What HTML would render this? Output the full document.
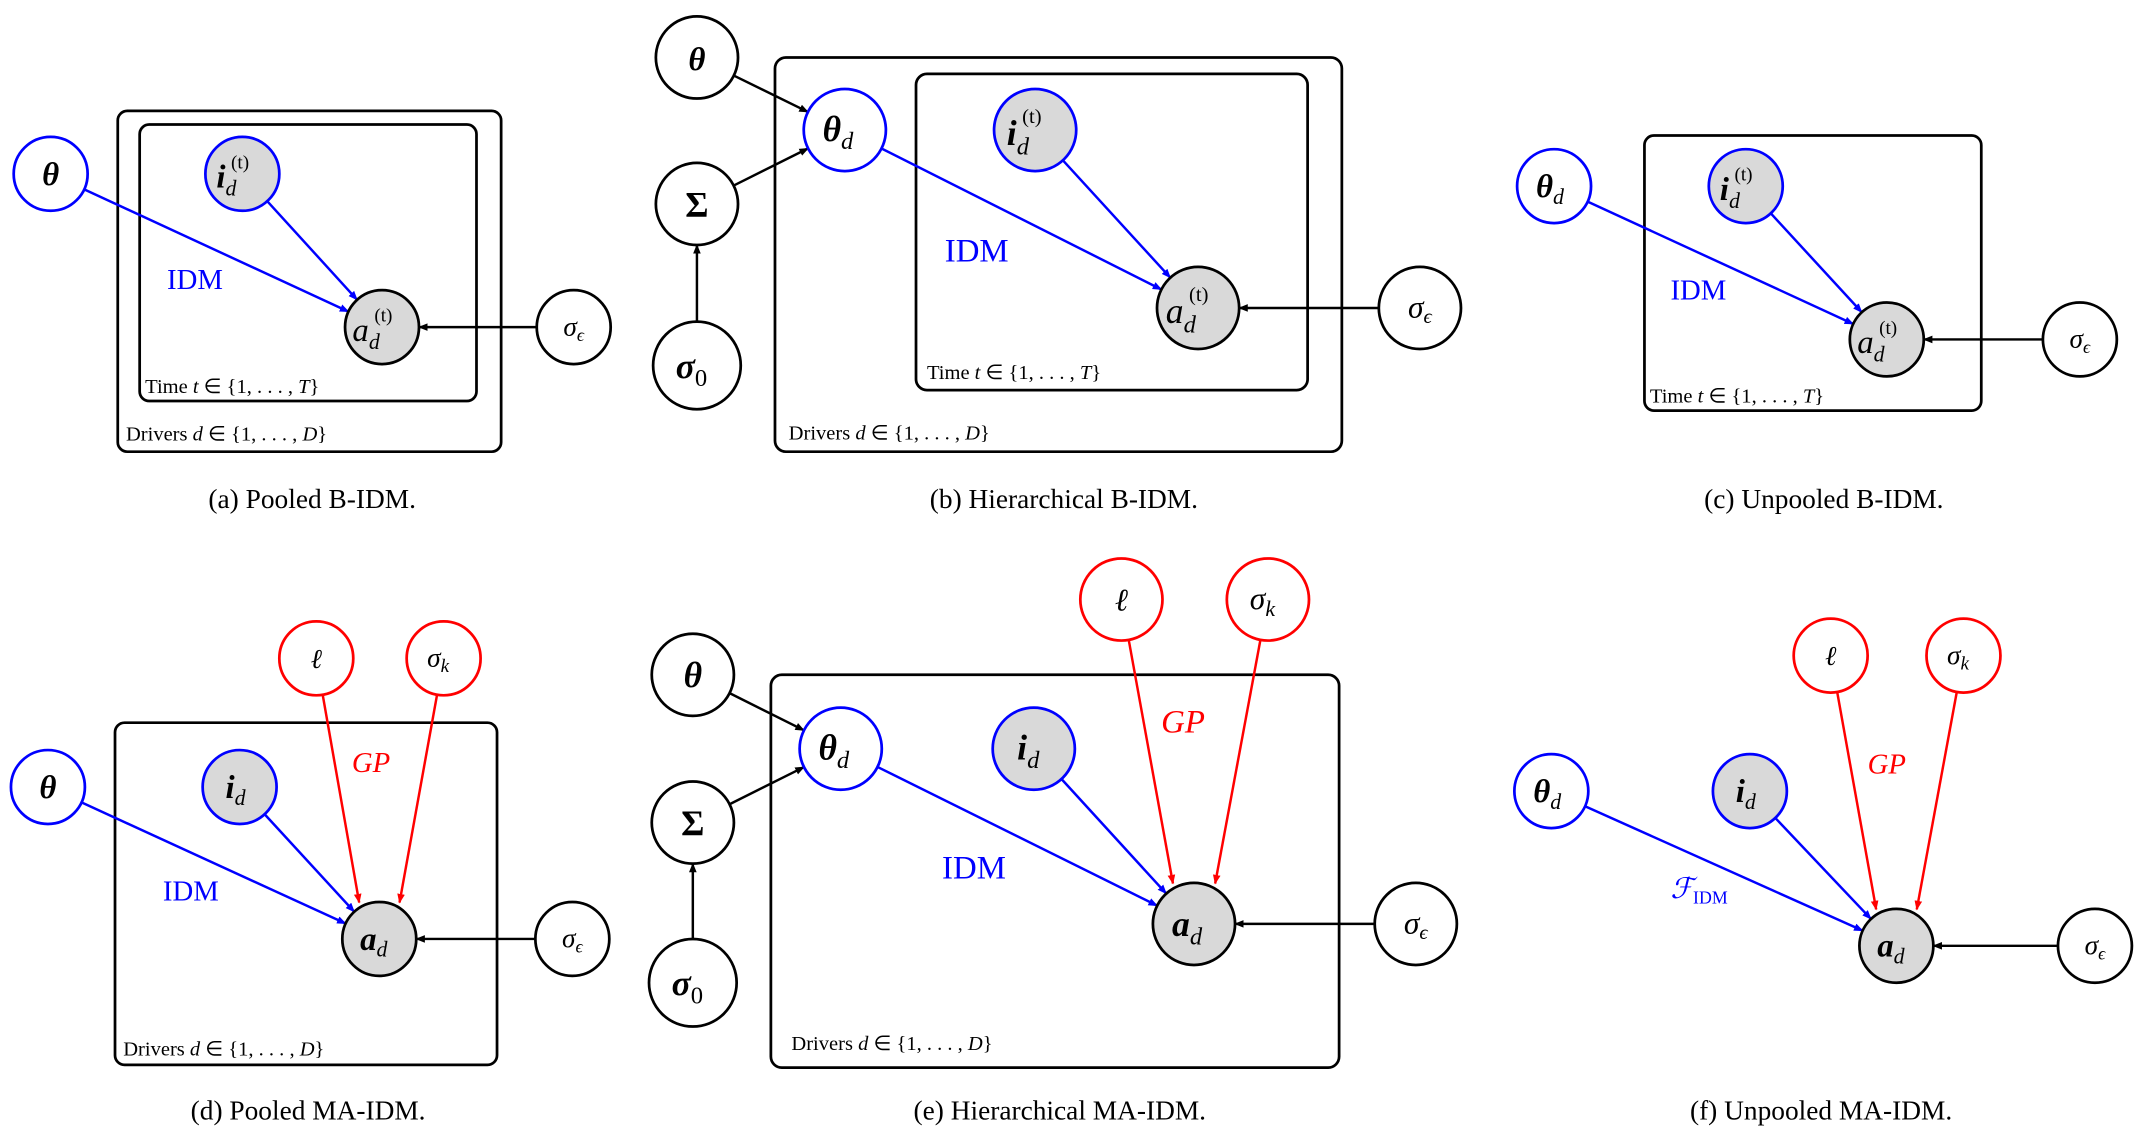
<!DOCTYPE html>
<html><head><meta charset="utf-8"><style>
html,body{margin:0;padding:0;background:#fff;}
svg{display:block;}
text{font-family:"Liberation Serif",serif;}
.n{font-size:24px;font-style:italic;font-weight:bold;}
.s{font-size:15px;}
.cap{font-size:20px;}
</style></head><body>
<svg id="g" width="2136" height="1147" viewBox="0 0 1560 838" preserveAspectRatio="none" xmlns="http://www.w3.org/2000/svg">
<defs>
<marker id="mk" viewBox="0 0 10 10" refX="9" refY="5" markerWidth="7" markerHeight="7" orient="auto" markerUnits="userSpaceOnUse"><path d="M0,1 L10,5 L0,9 z" fill="#000"/></marker>
<marker id="mb" viewBox="0 0 10 10" refX="9" refY="5" markerWidth="7" markerHeight="7" orient="auto" markerUnits="userSpaceOnUse"><path d="M0,1 L10,5 L0,9 z" fill="#00f"/></marker>
<marker id="mr" viewBox="0 0 10 10" refX="9" refY="5" markerWidth="7" markerHeight="7" orient="auto" markerUnits="userSpaceOnUse"><path d="M0,1 L10,5 L0,9 z" fill="#f00"/></marker>
</defs>
<g fill="none" stroke="#000" stroke-width="2">
<rect x="86" y="81" width="280" height="249" rx="7"/>
<rect x="102" y="91" width="246" height="202" rx="7"/>
<rect x="566" y="42" width="414" height="288" rx="8"/>
<rect x="669" y="54" width="286" height="231" rx="8"/>
<rect x="1201" y="99" width="246" height="201" rx="7"/>
<rect x="84" y="528" width="279" height="250" rx="7"/>
<rect x="563" y="493" width="415" height="287" rx="8"/>
</g>
<g id="edges"></g>
<g id="nodes"></g>
<g>
<!-- a -->
<text x="37" y="135" text-anchor="middle" class="n">θ</text>
<text x="170" y="137" text-anchor="middle" class="n">i<tspan font-size="16" dy="6" font-weight="normal">d</tspan><tspan font-size="14" dx="-4" dy="-20" font-weight="normal" font-style="normal">(t)</tspan></text>
<text x="272" y="249" text-anchor="middle" class="n" style="font-weight:normal">a<tspan font-size="16" dy="6">d</tspan><tspan font-size="14" dx="-4" dy="-20" font-style="normal">(t)</tspan></text>
<text x="419" y="245" text-anchor="middle" font-size="20" font-style="italic">σ<tspan font-size="13" dy="4">ϵ</tspan></text>
<text x="122" y="211" fill="#00f" font-size="21">IDM</text>
<text x="106" y="287" class="s">Time  <tspan font-style="italic">t</tspan> ∈ {1, . . . , <tspan font-style="italic">T</tspan>}</text>
<text x="92" y="322" class="s">Drivers  <tspan font-style="italic">d</tspan> ∈ {1, . . . , <tspan font-style="italic">D</tspan>}</text>
<text x="228" y="371" text-anchor="middle" class="cap">(a)  Pooled B-IDM.</text>
<!-- b -->
<text x="509" y="51" text-anchor="middle" class="n" font-size="26">θ</text>
<text x="509" y="158" text-anchor="middle" class="n" style="font-size:26px;font-style:normal">Σ</text>
<text x="505" y="276" text-anchor="middle" class="n" style="font-size:26px">σ<tspan font-size="18" dy="6" font-style="normal" font-weight="normal">0</tspan></text>
<text x="612" y="103" text-anchor="middle" class="n" style="font-size:26px">θ<tspan font-size="18" dy="6" font-weight="normal">d</tspan></text>
<text x="748" y="106" text-anchor="middle" class="n" style="font-size:26px">i<tspan font-size="18" dy="7" font-weight="normal">d</tspan><tspan font-size="15" dx="-5" dy="-23" font-weight="normal" font-style="normal">(t)</tspan></text>
<text x="867" y="236" text-anchor="middle" class="n" style="font-size:26px;font-weight:normal">a<tspan font-size="18" dy="7">d</tspan><tspan font-size="15" dx="-5" dy="-23" font-style="normal">(t)</tspan></text>
<text x="1037" y="232" text-anchor="middle" font-size="23" font-style="italic">σ<tspan font-size="15" dy="4">ϵ</tspan></text>
<text x="690" y="191" fill="#00f" font-size="24">IDM</text>
<text x="677" y="277" class="s" font-size="17">Time  <tspan font-style="italic">t</tspan> ∈ {1, . . . , <tspan font-style="italic">T</tspan>}</text>
<text x="576" y="321" class="s" font-size="17">Drivers  <tspan font-style="italic">d</tspan> ∈ {1, . . . , <tspan font-style="italic">D</tspan>}</text>
<text x="777" y="371" text-anchor="middle" class="cap">(b)  Hierarchical B-IDM.</text>
<!-- c -->
<text x="1132" y="144" text-anchor="middle" class="n">θ<tspan font-size="16" dy="5" font-weight="normal">d</tspan></text>
<text x="1268" y="146" text-anchor="middle" class="n">i<tspan font-size="16" dy="6" font-weight="normal">d</tspan><tspan font-size="14" dx="-4" dy="-20" font-weight="normal" font-style="normal">(t)</tspan></text>
<text x="1371" y="258" text-anchor="middle" class="n" style="font-weight:normal">a<tspan font-size="16" dy="6">d</tspan><tspan font-size="14" dx="-4" dy="-20" font-style="normal">(t)</tspan></text>
<text x="1519" y="254" text-anchor="middle" font-size="20" font-style="italic">σ<tspan font-size="13" dy="4">ϵ</tspan></text>
<text x="1220" y="219" fill="#00f" font-size="21">IDM</text>
<text x="1205" y="294" class="s">Time  <tspan font-style="italic">t</tspan> ∈ {1, . . . , <tspan font-style="italic">T</tspan>}</text>
<text x="1332" y="371" text-anchor="middle" class="cap">(c)  Unpooled B-IDM.</text>
<!-- d -->
<text x="35" y="583" text-anchor="middle" class="n">θ</text>
<text x="172" y="583" text-anchor="middle" class="n">i<tspan font-size="16" dy="5" font-weight="normal">d</tspan></text>
<text x="273" y="694" text-anchor="middle" class="n">a<tspan font-size="16" dy="5" font-weight="normal">d</tspan></text>
<text x="418" y="692" text-anchor="middle" font-size="20" font-style="italic">σ<tspan font-size="13" dy="4">ϵ</tspan></text>
<text x="231" y="488" text-anchor="middle" font-size="20" font-style="italic">ℓ</text>
<text x="320" y="487" text-anchor="middle" font-size="20" font-style="italic">σ<tspan font-size="14" dy="4">k</tspan></text>
<text x="257" y="564" fill="#f00" font-size="21" font-style="italic">GP</text>
<text x="119" y="658" fill="#00f" font-size="21">IDM</text>
<text x="90" y="771" class="s">Drivers  <tspan font-style="italic">d</tspan> ∈ {1, . . . , <tspan font-style="italic">D</tspan>}</text>
<text x="225" y="818" text-anchor="middle" class="cap">(d)  Pooled MA-IDM.</text>
<!-- e -->
<text x="506" y="502" text-anchor="middle" class="n" style="font-size:26px">θ</text>
<text x="506" y="610" text-anchor="middle" class="n" style="font-size:26px;font-style:normal">Σ</text>
<text x="502" y="727" text-anchor="middle" class="n" style="font-size:26px">σ<tspan font-size="18" dy="6" font-style="normal" font-weight="normal">0</tspan></text>
<text x="609" y="555" text-anchor="middle" class="n" style="font-size:26px">θ<tspan font-size="18" dy="6" font-weight="normal">d</tspan></text>
<text x="751" y="555" text-anchor="middle" class="n" style="font-size:26px">i<tspan font-size="18" dy="6" font-weight="normal">d</tspan></text>
<text x="867" y="684" text-anchor="middle" class="n" style="font-size:26px">a<tspan font-size="18" dy="6" font-weight="normal">d</tspan></text>
<text x="1034" y="682" text-anchor="middle" font-size="23" font-style="italic">σ<tspan font-size="15" dy="4">ϵ</tspan></text>
<text x="819" y="446" text-anchor="middle" font-size="23" font-style="italic">ℓ</text>
<text x="922" y="445" text-anchor="middle" font-size="23" font-style="italic">σ<tspan font-size="16" dy="5">k</tspan></text>
<text x="848" y="535" fill="#f00" font-size="24" font-style="italic">GP</text>
<text x="688" y="642" fill="#00f" font-size="24">IDM</text>
<text x="578" y="767" class="s" font-size="17">Drivers  <tspan font-style="italic">d</tspan> ∈ {1, . . . , <tspan font-style="italic">D</tspan>}</text>
<text x="774" y="818" text-anchor="middle" class="cap">(e)  Hierarchical MA-IDM.</text>
<!-- f -->
<text x="1130" y="586" text-anchor="middle" class="n">θ<tspan font-size="16" dy="5" font-weight="normal">d</tspan></text>
<text x="1275" y="586" text-anchor="middle" class="n">i<tspan font-size="16" dy="5" font-weight="normal">d</tspan></text>
<text x="1381" y="699" text-anchor="middle" class="n">a<tspan font-size="16" dy="5" font-weight="normal">d</tspan></text>
<text x="1530" y="697" text-anchor="middle" font-size="20" font-style="italic">σ<tspan font-size="13" dy="4">ϵ</tspan></text>
<text x="1337" y="486" text-anchor="middle" font-size="20" font-style="italic">ℓ</text>
<text x="1430" y="485" text-anchor="middle" font-size="20" font-style="italic">σ<tspan font-size="14" dy="4">k</tspan></text>
<text x="1364" y="565" fill="#f00" font-size="21" font-style="italic">GP</text>
<text x="1220" y="656" fill="#00f" font-size="21" font-style="italic">ℱ<tspan font-size="13" dy="4" font-style="normal">IDM</tspan></text>
<text x="1330" y="818" text-anchor="middle" class="cap">(f)  Unpooled MA-IDM.</text>
</g>
<script>
(function(){
var NS="http://www.w3.org/2000/svg";
var nodes=document.getElementById("nodes"),edges=document.getElementById("edges");
var N={};
function c(id,x,y,r,col,fill){N[id]=[x,y,r];var e=document.createElementNS(NS,"circle");
e.setAttribute("cx",x);e.setAttribute("cy",y);e.setAttribute("r",r);
e.setAttribute("stroke",col);e.setAttribute("stroke-width",2);e.setAttribute("fill",fill||"#fff");nodes.appendChild(e);}
function a(f,t,col){var A=N[f],B=N[t];var dx=B[0]-A[0],dy=B[1]-A[1],L=Math.sqrt(dx*dx+dy*dy);
var ux=dx/L,uy=dy/L;var e=document.createElementNS(NS,"line");
e.setAttribute("x1",A[0]+ux*A[2]);e.setAttribute("y1",A[1]+uy*A[2]);
e.setAttribute("x2",B[0]-ux*B[2]);e.setAttribute("y2",B[1]-uy*B[2]);
var s=col=="b"?"#00f":col=="r"?"#f00":"#000";
e.setAttribute("stroke",s);e.setAttribute("stroke-width",1.8);
e.setAttribute("marker-end","url(#m"+(col||"k")+")");edges.appendChild(e);}
var G="#d9d9d9";
c("a1",37,127,27,"#00f");c("a2",177,127,27,"#00f",G);c("a3",279,239,27,"#000",G);c("a4",419,239,27,"#000");
a("a1","a3","b");a("a2","a3","b");a("a4","a3");
c("b1",509,42,30,"#000");c("b2",509,149,30,"#000");c("b3",509,267,32,"#000");c("b4",617,95,30,"#00f");
c("b5",756,95,30,"#00f",G);c("b6",875,225,30,"#000",G);c("b7",1037,225,30,"#000");
a("b1","b4");a("b2","b4");a("b3","b2");a("b4","b6","b");a("b5","b6","b");a("b7","b6");
c("c1",1135,136,27,"#00f");c("c2",1275,136,27,"#00f",G);c("c3",1378,248,27,"#000",G);c("c4",1519,248,27,"#000");
a("c1","c3","b");a("c2","c3","b");a("c4","c3");
c("d1",35,575,27,"#00f");c("d2",175,575,27,"#00f",G);c("d3",277,686,27,"#000",G);c("d4",418,686,27,"#000");
c("d5",231,481,27,"#f00");c("d6",324,481,27,"#f00");
N.d3b=[267,686,27];N.d3c=[287,686,27];
a("d1","d3","b");a("d2","d3","b");a("d4","d3");a("d5","d3b","r");a("d6","d3c","r");
c("e1",506,493,30,"#000");c("e2",506,601,30,"#000");c("e3",506,718,32,"#000");c("e4",614,547,30,"#00f");
c("e5",755,547,30,"#00f",G);c("e6",872,675,30,"#000",G);c("e7",1034,675,30,"#000");
c("e8",819,438,30,"#f00");c("e9",926,438,30,"#f00");
N.e6b=[862,675,30];N.e6c=[882,675,30];
a("e1","e4");a("e2","e4");a("e3","e2");a("e4","e6","b");a("e5","e6","b");a("e7","e6");a("e8","e6b","r");a("e9","e6c","r");
c("f1",1133,578,27,"#00f");c("f2",1278,578,27,"#00f",G);c("f3",1385,691,27,"#000",G);c("f4",1530,691,27,"#000");
c("f5",1337,479,27,"#f00");c("f6",1434,479,27,"#f00");
N.f3b=[1375,691,27];N.f3c=[1395,691,27];
a("f1","f3","b");a("f2","f3","b");a("f4","f3");a("f5","f3b","r");a("f6","f3c","r");
})();
</script>
</svg>
</body></html>
